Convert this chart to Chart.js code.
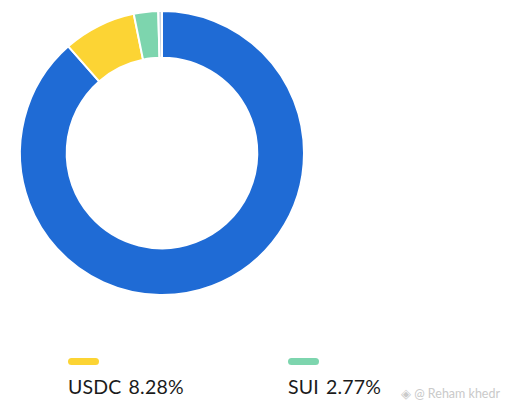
<!DOCTYPE html>
<html>
<head>
<meta charset="utf-8">
<script src="https://cdn.jsdelivr.net/npm/chart.js@4.4.0/dist/chart.umd.min.js"></script>
<style>
  html, body { margin: 0; padding: 0; background: #fff; }
  body { width: 513px; height: 413px; position: relative; overflow: hidden; font-family: "Lato", "Noto Sans", sans-serif; }
  #wrap { position: absolute; left: 12px; top: 3px; width: 300px; height: 300px; }
  .item { position: absolute; top: 358px; }
  .swatch { width: 31px; height: 7px; border-radius: 4px; }
  .label { margin-top: 10px; font-size: 19.5px; color: #1b1b1b; white-space: nowrap; letter-spacing: 0.2px; }
  .label span { margin-left: 7px; }
  #mark { position: absolute; left: 401px; top: 386px; font-size: 12.5px; color: #cacaca; white-space: nowrap; }
</style>
</head>
<body>
<div id="wrap"><canvas id="chart"></canvas></div>
<div id="legend"></div>
<div id="mark">◈ @ Reham khedr</div>
<script>
// tokens clockwise from 12 o'clock
const labels = ["Other token", "USDC", "SUI", "Other"];
const shares = [88.53, 8.28, 2.77, 0.42];
const colors = ["#1f6bd5", "#fcd434", "#7dd5ae", "#c5d3e2"];
// only these entries appear in the visible legend
const legendLabels = ["USDC", "SUI"];
const legendX = [68, 288];

const ctx = document.getElementById("chart");
new Chart(ctx, {
  type: "doughnut",
  data: {
    labels: labels,
    datasets: [
      {
        data: shares,
        backgroundColor: colors,
        borderColor: "#ffffff",
        borderWidth: 2,
        hoverOffset: 0,
      },
    ],
  },
  options: {
    responsive: true,
    maintainAspectRatio: false,
    animation: false,
    radius: 142,
    cutout: 100,
    plugins: {
      legend: { display: false },
      tooltip: { enabled: false },
    },
  },
});

// simple html legend: colour pill above "NAME value%"
const legend = document.getElementById("legend");
legendLabels.forEach((name, i) => {
  const idx = labels.indexOf(name);
  const el = document.createElement("div");
  el.className = "item";
  el.style.left = legendX[i] + "px";
  el.innerHTML =
    '<div class="swatch" style="background:' + colors[idx] + '"></div>' +
    '<div class="label">' + name + '<span>' + shares[idx].toFixed(2) + '%</span></div>';
  legend.appendChild(el);
});
</script>
</body>
</html>
